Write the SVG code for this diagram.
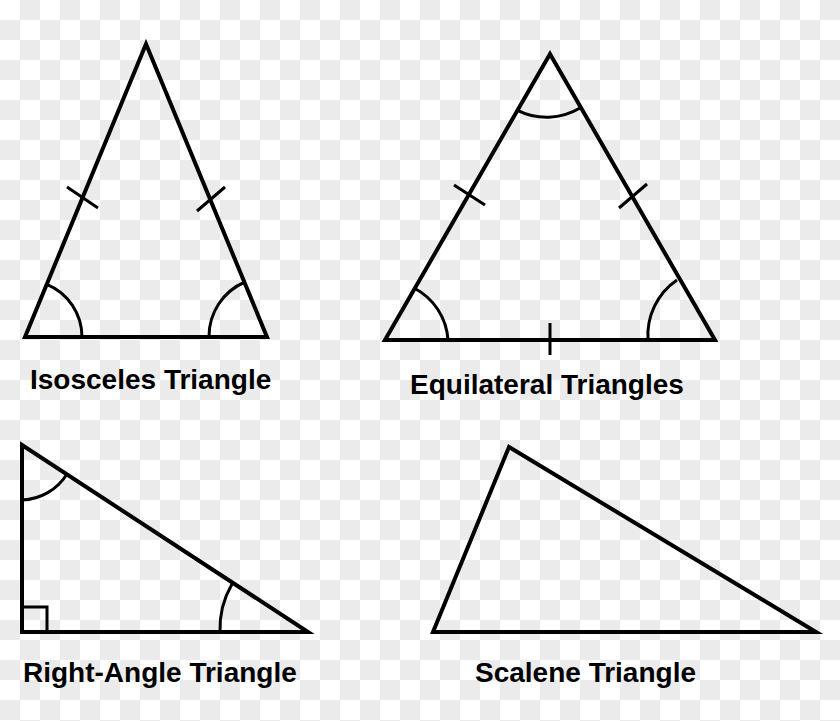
<svg xmlns="http://www.w3.org/2000/svg" width="840" height="721" viewBox="0 0 840 721">
<defs>
<pattern id="checker" x="0" y="0" width="40" height="40" patternUnits="userSpaceOnUse">
<rect x="0" y="0" width="40" height="40" fill="#ffffff"/>
<rect x="20" y="0" width="20" height="20" fill="#ebebeb"/>
<rect x="0" y="20" width="20" height="20" fill="#ebebeb"/>
</pattern>
</defs>
<style>
.tri{fill:none;stroke:#000;stroke-width:4;stroke-linejoin:miter;stroke-miterlimit:10}
.mark{fill:none;stroke:#000;stroke-width:3}
.label{font-family:"Liberation Sans",Arial,sans-serif;font-weight:bold;font-size:28px;fill:#000}
</style>
<rect id="background" x="0" y="0" width="840" height="721" fill="url(#checker)"/>

<g id="isosceles">
<polygon class="tri" points="146,44 25,337 267,337"/>
<line class="mark" x1="67" y1="187" x2="98" y2="208"/>
<line class="mark" x1="197" y1="211" x2="225" y2="187"/>
<path class="mark" d="M46.8,284.3 A57,57 0 0 1 82,337"/>
<path class="mark" d="M209,337 A59,59 0 0 1 245,282"/>
<text class="label" x="30" y="389">Isosceles Triangle</text>
</g>

<g id="equilateral">
<polygon class="tri" points="550,54 385,340 715,340"/>
<line class="mark" x1="454" y1="185" x2="485" y2="205"/>
<line class="mark" x1="619" y1="208" x2="647" y2="184"/>
<line class="mark" x1="550" y1="323" x2="550" y2="355"/>
<path class="mark" d="M517.5,110.3 A65,65 0 0 0 580,108"/>
<path class="mark" d="M414,288 A63,63 0 0 1 448,340"/>
<path class="mark" d="M648,340 A67,67 0 0 1 677,280"/>
<text class="label" x="410" y="394">Equilateral Triangles</text>
</g>

<g id="right-angle">
<polygon class="tri" points="22,445 22,632 308,632"/>
<path class="mark" d="M22,607 H47 V632"/>
<path class="mark" d="M67,474 A55,55 0 0 1 22,500"/>
<path class="mark" d="M220,632 A90,90 0 0 1 232,584"/>
<text class="label" x="23" y="682">Right-Angle Triangle</text>
</g>

<g id="scalene">
<polygon class="tri" points="509,447 433,632 816,632"/>
<text class="label" x="475" y="682">Scalene Triangle</text>
</g>

<g id="connectors"/>
</svg>
